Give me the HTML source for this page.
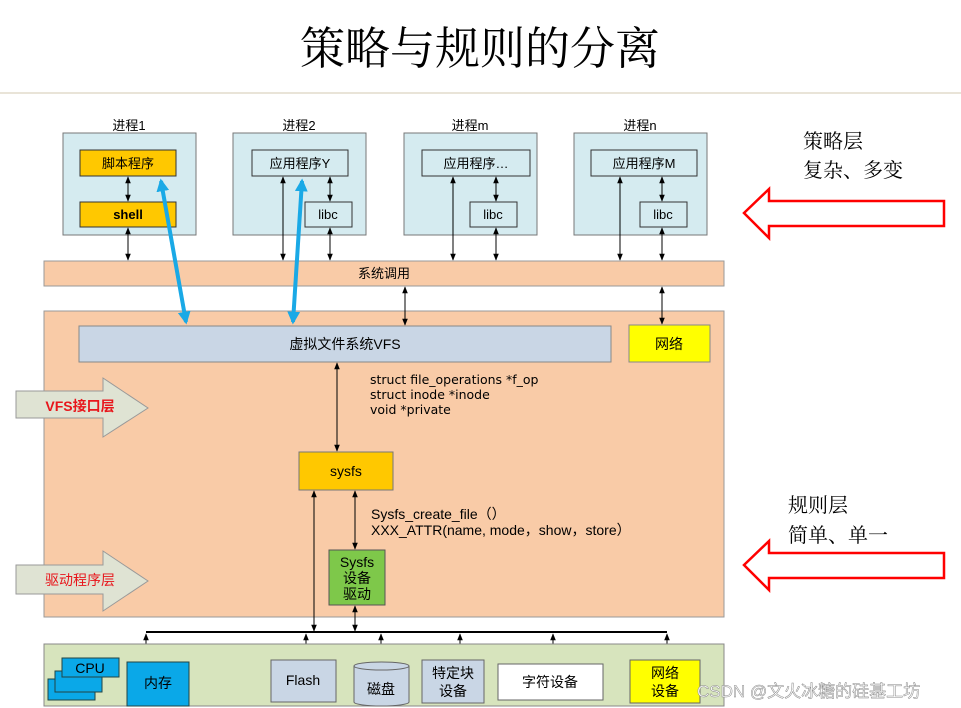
<!DOCTYPE html>
<html><head><meta charset="utf-8"><style>
html,body{margin:0;padding:0;background:#fff;}
svg{display:block;}
text{font-family:"Liberation Sans","Noto Sans CJK SC",sans-serif;}
</style></head><body>
<svg width="961" height="708" viewBox="0 0 961 708" xmlns="http://www.w3.org/2000/svg">
<defs>
<marker id="a" viewBox="0 0 10 10" refX="9" refY="5" markerWidth="7" markerHeight="7" orient="auto-start-reverse"><path d="M0,1 L10,5 L0,9 z" fill="#000"/></marker>
<marker id="b" viewBox="0 0 10 10" refX="8" refY="5" markerWidth="3.2" markerHeight="3.2" orient="auto-start-reverse"><path d="M0,0 L10,5 L0,10 z" fill="#1aa9e6"/></marker>
</defs>
<text x="480" y="64" font-size="45" text-anchor="middle" style="font-family:'Noto Serif CJK SC',serif">策略与规则的分离</text>
<line x1="0" y1="93" x2="961" y2="93" stroke="#e2dccb" stroke-width="1.5"/>

<g font-size="13" text-anchor="middle">
<text x="129" y="130">进程1</text><text x="299" y="130">进程2</text><text x="470" y="130">进程m</text><text x="640" y="130">进程n</text>
</g>
<g fill="#d5ebf0" stroke="#777" stroke-width="1">
<rect x="63" y="133" width="133" height="102"/><rect x="233" y="133" width="133" height="102"/>
<rect x="404" y="133" width="133" height="102"/><rect x="574" y="133" width="133" height="102"/>
</g>
<g stroke="#333" stroke-width="1">
<rect x="80" y="150" width="96" height="26" fill="#ffc800"/>
<rect x="80" y="202" width="96" height="25" fill="#ffc800"/>
<rect x="252" y="150" width="96" height="26" fill="#d5ebf0"/>
<rect x="305" y="202" width="47" height="25" fill="#d5ebf0"/>
<rect x="422" y="150" width="108" height="26" fill="#d5ebf0"/>
<rect x="470" y="202" width="47" height="25" fill="#d5ebf0"/>
<rect x="591" y="150" width="106" height="26" fill="#d5ebf0"/>
<rect x="640" y="202" width="47" height="25" fill="#d5ebf0"/>
</g>
<g font-size="13" text-anchor="middle">
<text x="128" y="168">脚本程序</text><text x="128" y="219" font-weight="bold">shell</text>
<text x="300" y="168">应用程序Y</text><text x="328" y="219">libc</text>
<text x="476" y="168">应用程序…</text><text x="493" y="219">libc</text>
<text x="644" y="168">应用程序M</text><text x="663" y="219">libc</text>
</g>

<rect x="44" y="261" width="680" height="25" fill="#f9cba7" stroke="#999"/>
<text x="384" y="278" font-size="13" text-anchor="middle">系统调用</text>
<rect x="44" y="311" width="680" height="306" fill="#f9cba7" stroke="#999"/>
<rect x="79" y="326" width="532" height="36" fill="#c9d6e5" stroke="#888"/>
<text x="345" y="349" font-size="14" text-anchor="middle">虚拟文件系统VFS</text>
<rect x="629" y="325" width="81" height="37" fill="#ffff00" stroke="#888"/>
<text x="669" y="349" font-size="14" text-anchor="middle">网络</text>

<g stroke="#000" stroke-width="1" marker-start="url(#a)" marker-end="url(#a)">
<line x1="128" y1="177" x2="128" y2="201"/>
<line x1="128" y1="228" x2="128" y2="260"/>
<line x1="283" y1="177" x2="283" y2="260"/>
<line x1="330" y1="177" x2="330" y2="201"/>
<line x1="330" y1="228" x2="330" y2="260"/>
<line x1="453" y1="177" x2="453" y2="260"/>
<line x1="496" y1="177" x2="496" y2="201"/>
<line x1="496" y1="228" x2="496" y2="260"/>
<line x1="620" y1="177" x2="620" y2="260"/>
<line x1="662" y1="177" x2="662" y2="201"/>
<line x1="662" y1="228" x2="662" y2="260"/>
<line x1="405" y1="287" x2="405" y2="325"/>
<line x1="662" y1="287" x2="662" y2="324"/>
<line x1="337" y1="363" x2="337" y2="451"/>
<line x1="355" y1="491" x2="355" y2="549"/>
<line x1="314" y1="491" x2="314" y2="631"/>
<line x1="355" y1="606" x2="355" y2="631"/>
</g>
<g stroke="#1aa9e6" stroke-width="4" marker-start="url(#b)" marker-end="url(#b)">
<line x1="161" y1="181" x2="186" y2="322"/>
<line x1="302" y1="181" x2="293" y2="322"/>
</g>

<text x="370" y="384" font-size="12.5" style="font-family:'DejaVu Sans',sans-serif">struct file_operations *f_op</text>
<text x="370" y="399" font-size="12.5" style="font-family:'DejaVu Sans',sans-serif">struct inode  *inode</text>
<text x="370" y="414" font-size="12.5" style="font-family:'DejaVu Sans',sans-serif">void *private</text>
<rect x="299" y="452" width="94" height="38" fill="#ffc800" stroke="#777"/>
<text x="346" y="476" font-size="14" text-anchor="middle">sysfs</text>
<text x="371" y="519" font-size="14">Sysfs_create_file（）</text>
<text x="371" y="535" font-size="14">XXX_ATTR(name, mode，show，store）</text>
<rect x="329" y="550" width="56" height="55" fill="#7ec84a" stroke="#555"/>
<g font-size="14" text-anchor="middle"><text x="357" y="567">Sysfs</text><text x="357" y="583">设备</text><text x="357" y="599">驱动</text></g>

<path d="M16,391 L103,391 L103,378 L148,408 L103,437 L103,418 L16,418 Z" fill="#dfe3d3" stroke="#999"/>
<text x="80" y="411" font-size="14" font-weight="bold" fill="#e8151b" text-anchor="middle">VFS接口层</text>
<path d="M16,565 L103,565 L103,551 L148,581 L103,611 L103,594 L16,594 Z" fill="#dfe3d3" stroke="#999"/>
<text x="80" y="585" font-size="14" fill="#e8151b" text-anchor="middle">驱动程序层</text>

<g fill="#fff" stroke="#f00" stroke-width="2.5">
<path d="M744,213 L769,189 L769,201 L944,201 L944,226 L769,226 L769,238 Z"/>
<path d="M744,565 L769,541 L769,553 L944,553 L944,578 L769,578 L769,590 Z"/>
</g>
<g font-size="20">
<text x="803" y="148" style="font-family:'Noto Serif CJK SC',serif">策略层</text>
<text x="803" y="177" style="font-family:'Noto Serif CJK SC',serif">复杂、多变</text>
<text x="788" y="512" style="font-family:'Noto Serif CJK SC',serif">规则层</text>
<text x="788" y="542" style="font-family:'Noto Serif CJK SC',serif">简单、单一</text>
</g>

<line x1="146" y1="632" x2="667" y2="632" stroke="#000" stroke-width="2"/>
<g stroke="#000" stroke-width="1" marker-start="url(#a)" marker-end="url(#a)">
<line x1="146" y1="634" x2="146" y2="661"/>
<line x1="306" y1="634" x2="306" y2="659"/>
<line x1="381" y1="634" x2="381" y2="661"/>
<line x1="460" y1="634" x2="460" y2="659"/>
<line x1="553" y1="634" x2="553" y2="663"/>
<line x1="667" y1="634" x2="667" y2="659"/>
</g>
<rect x="44" y="644" width="680" height="62" fill="#d7e4bd" stroke="#888"/>
<g fill="#0aa8e8" stroke="#244">
<rect x="48" y="679" width="47" height="21"/>
<rect x="55" y="671" width="47" height="21"/>
<rect x="62" y="658" width="57" height="19"/>
</g>
<text x="90" y="673" font-size="14" text-anchor="middle">CPU</text>
<rect x="127" y="662" width="62" height="44" fill="#0aa8e8" stroke="#244"/>
<text x="158" y="688" font-size="14" text-anchor="middle">内存</text>
<rect x="271" y="660" width="65" height="42" fill="#c9d6e5" stroke="#666"/>
<text x="303" y="685" font-size="14" text-anchor="middle">Flash</text>
<path d="M354,666 L354,702 A27.5,4 0 0 0 409,702 L409,666" fill="#c9d6e5" stroke="#666"/>
<ellipse cx="381.5" cy="666" rx="27.5" ry="4" fill="#c9d6e5" stroke="#666"/>
<text x="381" y="694" font-size="14" text-anchor="middle">磁盘</text>
<rect x="422" y="660" width="62" height="43" fill="#c9d6e5" stroke="#666"/>
<g font-size="14" text-anchor="middle"><text x="453" y="678">特定块</text><text x="453" y="696">设备</text></g>
<rect x="498" y="664" width="105" height="36" fill="#fff" stroke="#666"/>
<text x="550" y="687" font-size="14" text-anchor="middle">字符设备</text>
<rect x="630" y="660" width="70" height="43" fill="#ffff00" stroke="#666"/>
<g font-size="14" text-anchor="middle"><text x="665" y="678">网络</text><text x="665" y="696">设备</text></g>
<text x="697" y="697" font-size="17" fill="#fff" stroke="#888" stroke-width="0.5">CSDN @文火冰糖的硅基工坊</text>
</svg>
</body></html>
